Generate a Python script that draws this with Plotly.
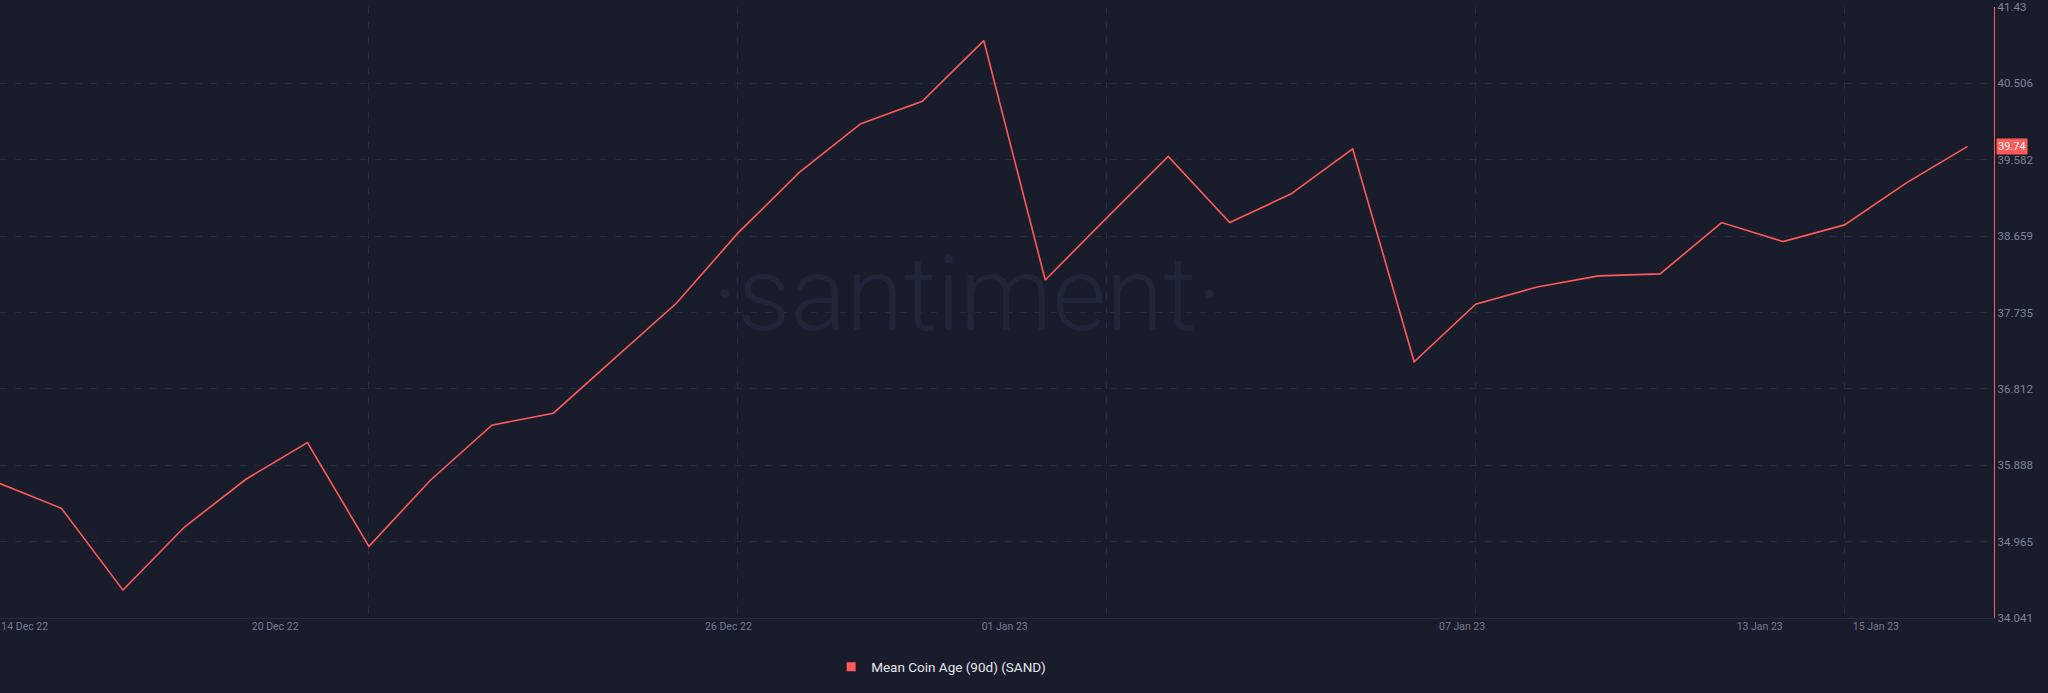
import plotly.graph_objects as go
import pandas as pd

# ---- data ----
dates = pd.date_range("2022-12-14", "2023-01-15", freq="D")
mean_coin_age = [35.667, 35.367, 34.378, 35.141, 35.719, 36.163, 34.907, 35.707,
                 36.373, 36.518, 37.184, 37.847, 38.695, 39.429, 40.019, 40.289,
                 41.024, 38.129, 38.880, 39.623, 38.823, 39.171, 39.716, 37.140,
                 37.835, 38.044, 38.178, 38.202, 38.823, 38.593, 38.795, 39.301,
                 39.744]
series_name = "Mean Coin Age (90d) (SAND)"
last_value_label = "39.74"

y_ticks = [34.041, 34.965, 35.888, 36.812, 37.735, 38.659, 39.582, 40.506, 41.43]
y_tick_text = ["34.041", "34.965", "35.888", "36.812", "37.735", "38.659", "39.582", "40.506", "41.43"]

grid_dates = ["2022-12-20", "2022-12-26", "2023-01-01", "2023-01-07", "2023-01-13"]
x_label_text = ["14 Dec 22", "20 Dec 22", "26 Dec 22", "01 Jan 23", "07 Jan 23", "13 Jan 23", "15 Jan 23"]
x_label_pos = ["2022-12-14 09:40", "2022-12-18 11:24", "2022-12-25 20:20", "2022-12-30 08:10",
               "2023-01-06 18:43", "2023-01-11 14:53", "2023-01-13 12:14"]
x_range = ["2022-12-14 00:00", "2023-01-15 10:20"]

# ---- style ----
BG = "#191c2b"
RED = "#ff5a5a"
GRID = "#282c3d"
TICK = "#7d8599"
FONT = "Roboto, sans-serif"

fig = go.Figure()
fig.add_trace(go.Scatter(x=dates, y=mean_coin_age, mode="lines",
                         line=dict(color=RED, width=1.6), showlegend=False,
                         name=series_name))
# legend proxy (square swatch)
fig.add_trace(go.Scatter(x=[None], y=[None], mode="markers", name=series_name,
                         marker=dict(symbol="square", color=RED, size=9)))
# invisible trace to activate xaxis2
fig.add_trace(go.Scatter(x=[None], y=[None], xaxis="x2", showlegend=False))

fig.update_layout(
    width=2048, height=693,
    paper_bgcolor=BG, plot_bgcolor=BG,
    margin=dict(l=0, r=54, t=7, b=75, autoexpand=False),
    font=dict(family=FONT, color=TICK, size=12),
    xaxis=dict(type="date", range=x_range, tickvals=grid_dates, showticklabels=False,
               showgrid=True, gridcolor=GRID, griddash="7px,8px", gridwidth=1,
               showline=True, linecolor="#262a3b", linewidth=1, zeroline=False, ticks="",
               automargin=False),
    xaxis2=dict(type="date", range=x_range, overlaying="x", side="bottom", anchor="y",
                tickvals=x_label_pos, ticktext=x_label_text, showgrid=False,
                tickfont=dict(family=FONT, size=10.5, color="#737b90"), ticks="",
                zeroline=False, automargin=False, ticklabeloverflow="allow"),
    yaxis=dict(side="right", range=[y_ticks[0], y_ticks[-1]], tickvals=y_ticks, ticktext=y_tick_text,
               showgrid=True, gridcolor=GRID, griddash="7px,8px", gridwidth=1,
               showline=True, linecolor=RED, linewidth=1.3, zeroline=False, ticks="",
               tickfont=dict(family=FONT, size=11.5, color=TICK), automargin=False,
               ticklabeloverflow="allow"),
    legend=dict(orientation="h", x=0.472, xanchor="center", y=-0.08, yanchor="middle",
                font=dict(family=FONT, size=13.5, color="#e4e6ec"), bgcolor="rgba(0,0,0,0)",
                itemwidth=30),
    hovermode=False,
)

# watermark
fig.add_annotation(text="·santiment·", xref="paper", yref="paper", x=0.485, y=0.53,
                   xanchor="center", yanchor="middle", showarrow=False,
                   font=dict(family=FONT, size=104, color="#21253a", weight=300))
# last value badge
fig.add_annotation(text=last_value_label, xref="paper", yref="y", x=1, y=mean_coin_age[-1],
                   xanchor="left", yanchor="middle", xshift=2, showarrow=False,
                   bgcolor=RED, borderpad=1,
                   font=dict(family=FONT, size=11, color="#ffffff"))

fig.write_html("out.html", config={"displayModeBar": False, "staticPlot": True},
               post_script="document.body.style.margin='0';document.body.style.background='#191c2b';document.body.style.overflow='hidden';")
